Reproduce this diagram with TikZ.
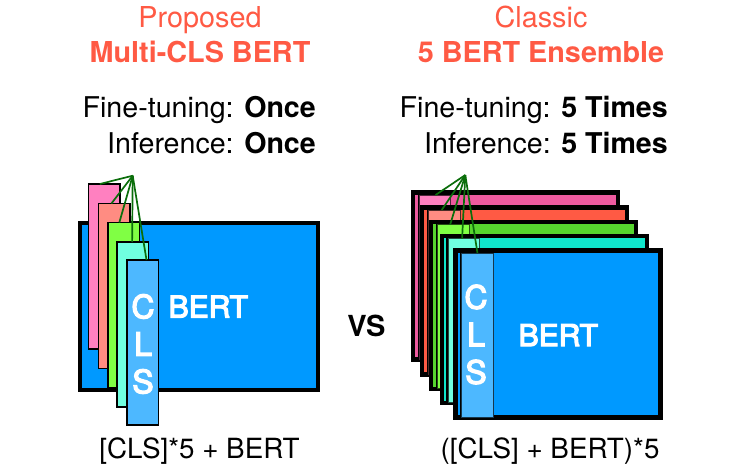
\documentclass[tikz,border=0pt]{standalone}
\usepackage{fontspec}
\setmainfont{TeX Gyre Heros}
\newfontfamily\heavyfont[FakeBold=4]{TeX Gyre Heros}
\usetikzlibrary{calc}
\definecolor{accent}{HTML}{FF5A44}
\definecolor{bertblue}{HTML}{0099FF}
\definecolor{clsblue}{HTML}{4DB8FF}
\definecolor{linkgreen}{HTML}{0B6E0B}
\definecolor{pinkA}{HTML}{EE5A9F}\definecolor{pinkB}{HTML}{FF80C0}
\definecolor{redA}{HTML}{FF5A44}\definecolor{redB}{HTML}{FF8C82}
\definecolor{greenA}{HTML}{56D62E}\definecolor{greenB}{HTML}{80FF44}
\definecolor{tealA}{HTML}{10E6CC}\definecolor{tealB}{HTML}{70FFE0}
\tikzset{
  x=1pt,y=-1pt,
  bigbox/.style={draw=black,line width=4.3pt,outer sep=0pt,minimum width=#1,minimum height=167pt,inner sep=0pt,anchor=north west},
  clsbar/.style={draw=black,line width=1.6pt,outer sep=0pt,minimum width=31.5pt,minimum height=165pt,inner sep=0pt,anchor=north west},
  thinbar/.style={draw=black!70!#1,fill=#1,line width=0.8pt,outer sep=0pt,minimum width=31.3pt,minimum height=164pt,inner sep=0pt,anchor=north west},
  captext/.style={inner sep=0pt,anchor=base,text=black,font=\fontsize{27.8}{27.8}\selectfont},
  textline/.style={inner sep=0pt,anchor=base east,text=black,font=\fontsize{28.6}{28.6}\selectfont},
  bertword/.style={inner sep=0pt,anchor=base west,text=white,font=\heavyfont\fontsize{30}{30}\selectfont},
  letters/.style={inner sep=0pt,align=center,text=white,font=\heavyfont\fontsize{32}{37.5}\selectfont},
  linkline/.style={draw=linkgreen,line width=1.7pt},
  headtext/.style={inner sep=0pt,anchor=base,text=accent,font=\fontsize{28.8}{28.8}\selectfont},
}
\newcommand{\stackbox}[5]{%
  \node[bigbox=205pt,fill=#4] (#1b) at (#2,#3) {};
  \node[thinbar=#5] (#1c) at ($(#2,#3)+(6.3,2.5)$) {};
  \draw[black,line width=1.4pt] ($(#2,#3)+(5.2,2)$) -- ($(#2,#3)+(5.2,165)$);
}
\begin{document}
\begin{tikzpicture}
\useasboundingbox (0,0) rectangle (756,469);
% titles
\node[headtext] (t1) at (200,27.5) {Proposed};
\node[headtext] (t2) at (200,62.7) {\textbf{Multi-CLS BERT}};
\node[headtext] (t3) at (541,27.5) {Classic};
\node[headtext] (t4) at (541,62.7) {\textbf{5 BERT Ensemble}};
\node[textline] (f1) at (316,117.7) {Fine-tuning: \textbf{Once}};
\node[textline] (i1) at (316,153.5) {Inference: \textbf{Once}};
\node[textline] (f2) at (668,117.7) {Fine-tuning: \textbf{5 Times}};
\node[textline] (i2) at (668,153.5) {Inference: \textbf{5 Times}};
% left diagram
\node[bigbox=238pt,fill=bertblue] (lb) at (80,223) {};
\node[clsbar,fill=pinkB] (l1) at (88.5,184) {};
\node[clsbar,fill=redB] (l2) at (98.5,203.5) {};
\node[clsbar,fill=greenB] (l3) at (108,222.5) {};
\node[clsbar,fill=tealB] (l4) at (117,242) {};
\node[clsbar,fill=clsblue] (l5) at (127,260) {};
\node[letters] (lc) at (143,344) {C\\L\\S};
\node[bertword] (lt) at (168.5,317.5) {BERT};
\coordinate (la) at (132.7,175.7);
\draw[linkline] (la) -- ($(l1.north west)!.36!(l1.north east)$);
\draw[linkline] (la) -- ($(l2.north west)!.41!(l2.north east)$);
\draw[linkline] (la) -- ($(l3.north west)!.36!(l3.north east)$);
\draw[linkline] (la) -- ($(l4.north west)!.48!(l4.north east)$);
\draw[linkline] (la) -- ($(l5.north west)!.62!(l5.north east)$);
% right diagram
\stackbox{r1}{413}{192.5}{pinkA}{pinkB}
\stackbox{r2}{422.3}{207.5}{redA}{redB}
\stackbox{r3}{431.3}{222.3}{greenA}{greenB}
\stackbox{r4}{441.7}{236.3}{tealA}{tealB}
\stackbox{r5}{455.5}{250.5}{bertblue}{clsblue}
\node[letters] (rc) at (476,334.5) {C\\L\\S};
\node[bertword] (rt) at (518.5,346) {BERT};
\coordinate (ra) at (465.3,175);
\draw[linkline] (ra) -- ($(r1c.north west)!.52!(r1c.north east)$);
\draw[linkline] (ra) -- ($(r2c.north west)!.42!(r2c.north east)$);
\draw[linkline] (ra) -- ($(r3c.north west)!.40!(r3c.north east)$);
\draw[linkline] (ra) -- ($(r4c.north west)!.45!(r4c.north east)$);
\draw[linkline] (ra) -- ($(r5c.north west)!.50!(r5c.north east)$);
% captions
\node[captext,font=\bfseries\fontsize{29}{29}\selectfont] (vs) at (366.5,336.7) {VS};
\node[captext] (c1) at (199.5,458) {[CLS]*5 + BERT};
\node[captext] (c2) at (550,458) {([CLS] + BERT)*5};
\end{tikzpicture}
\end{document}
